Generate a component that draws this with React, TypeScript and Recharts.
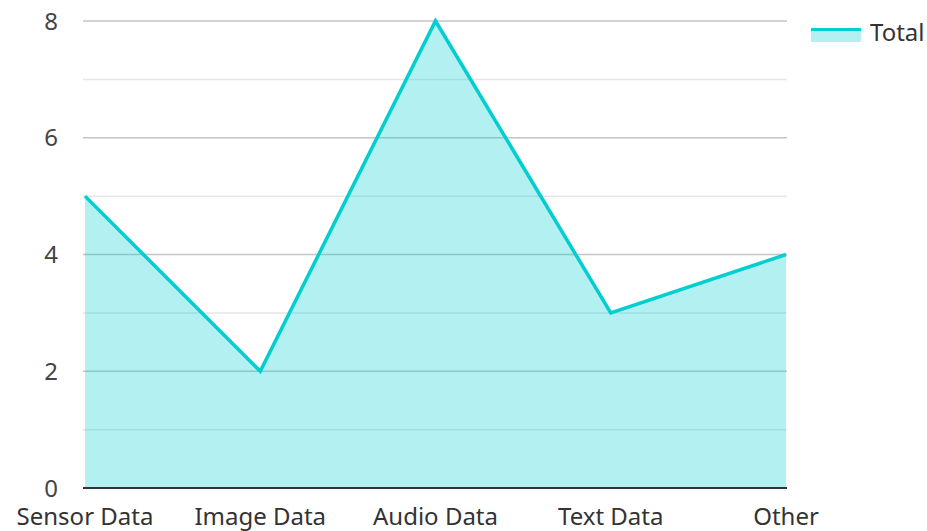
import React from "react";
import { AreaChart, Area, XAxis, YAxis, CartesianGrid } from "recharts";

const categories = ["Sensor Data", "Image Data", "Audio Data", "Text Data", "Other"];
const totals = [5, 2, 8, 3, 4];
const yTicks = [0, 2, 4, 6, 8];
const majorGrid = [2, 4, 6, 8];
const minorGrid = [1, 3, 5, 7];

const data = categories.map((name, i) => ({ name, Total: totals[i] }));

const FONT = "'Noto Sans', 'Open Sans', sans-serif";
const LINE = "#00ced1";
const FILL = "rgba(0,206,209,0.3)";

export default function App() {
  return (
    <div style={{ position: "absolute", left: 0, top: 0, width: 927, height: 531, background: "#fff" }}>
      <AreaChart width={927} height={531} data={data} margin={{ top: 21, right: 140, bottom: 0, left: 0 }}>
        <CartesianGrid vertical={false} horizontalValues={minorGrid} stroke="#e6e6e6" strokeWidth={1.5} />
        <CartesianGrid vertical={false} horizontalValues={majorGrid} stroke="#c4c4c4" strokeWidth={1.5} />
        <XAxis
          dataKey="name"
          height={43}
          padding={{ left: 2, right: 1 }}
          tickLine={false}
          axisLine={{ stroke: "#333", strokeWidth: 2 }}
          tick={{ fill: "#333", fontSize: 24, fontFamily: FONT }}
          tickMargin={14}
          interval={0}
        />
        <YAxis
          width={83}
          domain={[0, 8]}
          ticks={yTicks}
          tickLine={false}
          axisLine={false}
          tickSize={0}
          tickMargin={25}
          tick={{ fill: "#444", fontSize: 24, fontFamily: FONT }}
        />
        <Area
          type="linear"
          dataKey="Total"
          stroke={LINE}
          strokeWidth={3.5}
          fill={FILL}
          fillOpacity={1}
          dot={false}
          activeDot={false}
          isAnimationActive={false}
        />
      </AreaChart>
      <div
        style={{
          position: "absolute",
          left: 811,
          top: 15,
          display: "flex",
          alignItems: "center",
          fontFamily: FONT,
          fontSize: 24,
          color: "#333",
          whiteSpace: "nowrap",
        }}
      >
        <svg width={50} height={16} style={{ marginRight: 9, marginTop: 4 }}>
          <rect x={0} y={2} width={50} height={14} fill={FILL} />
          <line x1={0} y1={3.5} x2={50} y2={3.5} stroke={LINE} strokeWidth={3} />
        </svg>
        <span>Total</span>
      </div>
    </div>
  );
}
